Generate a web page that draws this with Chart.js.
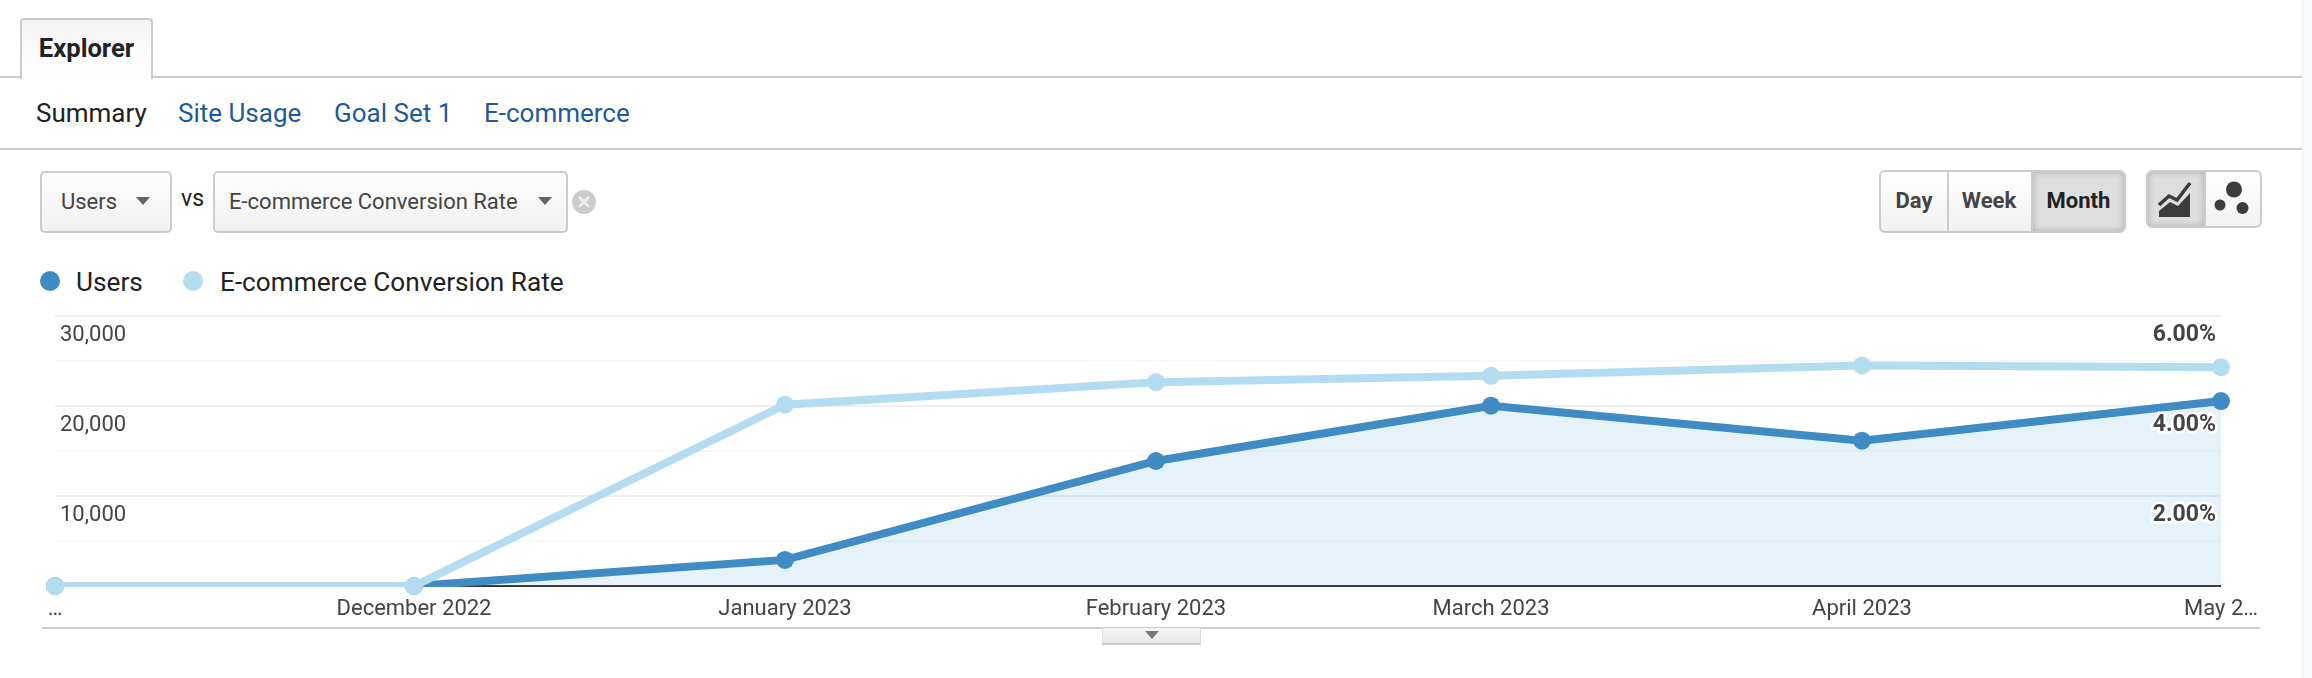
<!DOCTYPE html>
<html>
<head>
<meta charset="utf-8">
<title>Explorer</title>
<script src="https://cdn.jsdelivr.net/npm/chart.js@4"></script>
<style>
  html, body { margin: 0; padding: 0; background: #fff; }
  body { width: 2312px; height: 678px; position: relative; overflow: hidden; font-family: Roboto, sans-serif; color: #222; }
  .abs { position: absolute; white-space: nowrap; }
  .rule { position: absolute; height: 2px; background: #ccc; }
  .strip { position: absolute; left: 2302px; top: 0; width: 10px; height: 678px; background: #f8f9fb; border-left: 1px solid #eef0f3; box-sizing: border-box; }
  .tab { position: absolute; left: 20px; top: 18px; width: 133px; height: 61px; box-sizing: border-box; border: 2px solid #ccc; border-bottom: none; border-radius: 4px 4px 0 0; background: linear-gradient(#f4f4f4, #fff); font-weight: 700; font-size: 25.6px; line-height: 56px; text-align: center; color: #222; }
  .link { color: #1c5a9c; font-size: 26px; line-height: 30px; top: 98px; }
  .btn { position: absolute; box-sizing: border-box; border: 2px solid #ccc; border-radius: 5px; background: linear-gradient(#fdfdfd, #f1f1f1); font-size: 22px; color: #444; line-height: 58px; }
  .caret { position: absolute; width: 0; height: 0; border-left: 7px solid transparent; border-right: 7px solid transparent; border-top: 8px solid #666; }
  .group { position: absolute; box-sizing: border-box; border: 2px solid #ccc; border-radius: 6px; overflow: hidden; display: flex; background: linear-gradient(#fff, #f1f1f1); }
  .group div { box-sizing: border-box; text-align: center; font-weight: 700; font-size: 22px; color: #444; line-height: 58px; border-right: 2px solid #ccc; }
  .group div:last-child { border-right: none; }
  .group .on { background: #dedede; box-shadow: inset 0 0 6px #aaa; color: #222; }
  .dot { position: absolute; width: 20px; height: 20px; border-radius: 50%; top: 271px; }
  .legend { font-size: 26.2px; line-height: 30px; top: 267px; color: #222; }
  #wrap { position: absolute; left: 0; top: 300px; width: 2312px; height: 327px; }
  .pull { position: absolute; left: 1102px; top: 628px; width: 99px; height: 17px; box-sizing: border-box; background: linear-gradient(#f6f6f6, #e6e6e6); border-bottom: 2px solid #ccc; border-left: 1px solid #ddd; border-right: 1px solid #ddd; }
</style>
</head>
<body>
<div class="strip"></div>

<div class="rule" style="left:0;top:76px;width:2302px"></div>
<div class="tab">Explorer</div>

<div class="abs link" style="left:36px;color:#222">Summary</div>
<div class="abs link" style="left:178px">Site Usage</div>
<div class="abs link" style="left:334px">Goal Set 1</div>
<div class="abs link" style="left:484px">E-commerce</div>
<div class="rule" style="left:0;top:148px;width:2302px"></div>

<div class="btn" style="left:40px;top:171px;width:132px;height:62px;padding-left:19px">Users</div>
<div class="caret" style="left:136px;top:197px"></div>
<div class="abs" style="left:181px;top:185px;font-size:23px;line-height:28px;color:#222">vs</div>
<div class="btn" style="left:213px;top:171px;width:355px;height:62px;padding-left:14px">E-commerce Conversion Rate</div>
<div class="caret" style="left:538px;top:197px"></div>
<svg class="abs" style="left:572px;top:190px" width="24" height="24" viewBox="0 0 24 24">
  <circle cx="12" cy="12" r="12" fill="#ccc"/>
  <path d="M7 7 L17 17 M17 7 L7 17" stroke="#eee" stroke-width="2.5"/>
</svg>

<div class="group" style="left:1879px;top:170px;width:247px;height:63px">
  <div style="width:68px">Day</div>
  <div style="width:84px;padding-right:2px">Week</div>
  <div class="on" style="width:91px">Month</div>
</div>
<div class="group" style="left:2146px;top:170px;width:116px;height:58px">
  <div class="on" style="width:56px;border-right:none"></div>
  <div style="width:56px;border-left:2px solid #ccc"></div>
</div>
<svg class="abs" style="left:2158px;top:181px" width="34" height="36" viewBox="0 0 34 36">
  <path d="M1 24 L11 15 L19 19 L32 2" fill="none" stroke="#3c3c3c" stroke-width="3.5"/>
  <path d="M1 36 L1 30 L12 21 L20 25 L32 12 L32 36 Z" fill="#3c3c3c"/>
</svg>
<svg class="abs" style="left:2214px;top:181px" width="36" height="34" viewBox="0 0 36 34">
  <circle cx="20" cy="8.5" r="8" fill="#3c3c3c"/>
  <circle cx="6" cy="24" r="5.5" fill="#3c3c3c"/>
  <circle cx="28.5" cy="27" r="6" fill="#3c3c3c"/>
</svg>

<div class="dot" style="left:40px;background:#3f8bc4"></div>
<div class="abs legend" style="left:76px">Users</div>
<div class="dot" style="left:183px;background:#b4dcf1"></div>
<div class="abs legend" style="left:220px">E-commerce Conversion Rate</div>

<div id="wrap"><canvas id="chart"></canvas></div>

<div class="rule" style="left:42px;top:627px;width:2218px"></div>
<div class="pull"></div>
<div class="caret" style="left:1145px;top:631px;border-top-color:#777"></div>

<script>
// ---- DATA ----
const monthDates = ['2022-11-01', '2022-12-01', '2023-01-01', '2023-02-01', '2023-03-01', '2023-04-01', '2023-05-01'];
const xTickLabels = ['…', 'December 2022', 'January 2023', 'February 2023', 'March 2023', 'April 2023', 'May 2…'];
const usersValues = [0, 0, 2900, 13890, 20030, 16150, 20550];
const conversionValues = [0, 0, 4.03, 4.53, 4.67, 4.9, 4.86];
const leftTickLabels = { 10000: '10,000', 20000: '20,000', 30000: '30,000' };
const rightTickLabels = { 2: '2.00%', 4: '4.00%', 6: '6.00%' };

const BLUE = '#3f8bc4';
const LIGHT = '#b4dcf1';
const TEXT = '#444';
const FONT = "Roboto, sans-serif";

const monthTimes = monthDates.map(d => Date.parse(d));
const toPoints = values => values.map((v, i) => ({ x: monthTimes[i], y: v }));

// the lines are cut at the axis, the dots are not
const lineClip = { left: 12, right: 12, top: 12, bottom: 1 };

// mirrored labels must not take any room from the plot
const flatAxis = axis => { axis.width = 0; axis.paddingTop = 0; axis.paddingBottom = 0; };

new Chart(document.getElementById('chart'), {
  type: 'line',
  data: {
    datasets: [
      {
        label: 'Users',
        data: toPoints(usersValues),
        yAxisID: 'y',
        borderColor: BLUE,
        borderWidth: 8,
        backgroundColor: 'rgba(80,165,215,0.14)',
        fill: 'origin',
        tension: 0,
        pointRadius: 0,
        clip: lineClip,
        order: 4,
      },
      {
        label: 'Users points',
        data: toPoints(usersValues),
        yAxisID: 'y',
        showLine: false,
        pointRadius: 9,
        pointBorderWidth: 0,
        pointBackgroundColor: BLUE,
        clip: false,
        order: 3,
      },
      {
        label: 'E-commerce Conversion Rate',
        data: toPoints(conversionValues),
        yAxisID: 'y1',
        borderColor: LIGHT,
        borderWidth: 8,
        fill: false,
        tension: 0,
        pointRadius: 0,
        clip: lineClip,
        order: 2,
      },
      {
        label: 'Conversion points',
        data: toPoints(conversionValues),
        yAxisID: 'y1',
        showLine: false,
        pointRadius: 9,
        pointBorderWidth: 0,
        pointBackgroundColor: LIGHT,
        clip: false,
        order: 1,
      },
    ]
  },
  options: {
    responsive: true,
    maintainAspectRatio: false,
    animation: false,
    layout: { padding: { left: 55, right: 91, top: 16, bottom: 0 } },
    plugins: { legend: { display: false }, tooltip: { enabled: false } },
    scales: {
      x: {
        type: 'linear',
        min: monthTimes[0],
        max: monthTimes[monthTimes.length - 1],
        afterBuildTicks: axis => { axis.ticks = monthTimes.map(value => ({ value })); },
        afterFit: axis => { axis.height = 41; },
        grid: { display: false, drawTicks: false },
        border: { display: false },
        ticks: {
          autoSkip: false,
          maxRotation: 0,
          padding: 10,
          color: TEXT,
          font: { family: FONT, size: 22 },
          callback: (v, i) => xTickLabels[i],
        },
      },
      y: {
        position: 'left',
        min: 0,
        max: 30000,
        afterFit: flatAxis,
        border: { display: false },
        grid: {
          drawTicks: false,
          color: ctx => ctx.tick.value === 0 ? '#333' : (ctx.tick.value % 10000 === 0 ? '#efefef' : '#f8f8f8'),
          lineWidth: 2,
        },
        ticks: {
          stepSize: 5000,
          autoSkip: false,
          mirror: true,
          padding: 5,
          color: TEXT,
          font: { family: FONT, size: 22, lineHeight: '39px' },
          // blank first line pushes the label below its gridline
          callback: v => leftTickLabels[v] ? ['', leftTickLabels[v]] : '',
        },
      },
      y1: {
        position: 'right',
        min: 0,
        max: 6,
        afterFit: flatAxis,
        border: { display: false },
        grid: { display: false, drawTicks: false },
        ticks: {
          stepSize: 1,
          autoSkip: false,
          mirror: true,
          padding: -5,
          z: 1,
          color: TEXT,
          textStrokeColor: '#fff',
          textStrokeWidth: 5,
          font: { family: FONT, size: 23, weight: '700', lineHeight: '39px' },
          callback: v => rightTickLabels[v] ? ['', rightTickLabels[v]] : '',
        },
      },
    },
  },
});
</script>
</body>
</html>
